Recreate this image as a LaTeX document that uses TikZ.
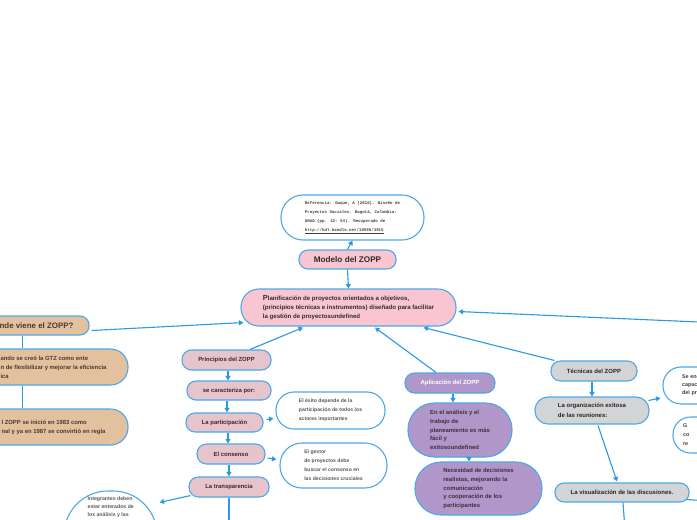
\documentclass[tikz,border=0pt]{standalone}
\usepackage{fontspec}
\setmainfont{Liberation Sans}
\newfontfamily\monof{Liberation Mono}
\usetikzlibrary{arrows.meta,calc}
\definecolor{bord}{HTML}{4DA8E8}
\definecolor{connc}{HTML}{2B9AE0}
\definecolor{pinkc}{HTML}{F9C5D1}
\definecolor{mauvec}{HTML}{E5C4CB}
\definecolor{tanc}{HTML}{E3C19F}
\definecolor{purpc}{HTML}{B197C9}
\definecolor{grayc}{HTML}{D3D4D6}
\definecolor{maroontx}{HTML}{4A1F2E}
\definecolor{tantx}{HTML}{4A3A30}
\definecolor{purptx}{HTML}{3A2F40}
\definecolor{darktx}{HTML}{2D2D2D}
\newcommand\bx[7]{%
  \node[#2, minimum width={(#5)-(#3)}, minimum height={(#6)-(#4)},
        rounded corners={((#6)-(#4))/2-0.5}]
        (#1) at ({((#3)+(#5))/2},{((#4)+(#6))/2}) {#7};}
\tikzset{
  basebox/.style={draw=bord, line width=1.1pt, inner sep=0pt, align=left,
                  font=\bfseries\fontsize{5.9}{9}\selectfont},
  pinkb/.style={basebox, fill=pinkc, text=darktx},
  mauveb/.style={basebox, fill=mauvec, text=maroontx},
  tanb/.style={basebox, fill=tanc, text=tantx},
  purpb/.style={basebox, fill=purpc, text=purptx, font=\bfseries\fontsize{5.9}{8.7}\selectfont},
  grayb/.style={basebox, fill=grayc, text=black!85, font=\bfseries\fontsize{6}{9.5}\selectfont},
  whiteb/.style={basebox, fill=white, text=black!65, font=\bfseries\fontsize{5.1}{9}\selectfont},
  plaintext/.style={inner sep=0pt, align=left, text=black!65, font=\bfseries\fontsize{5.2}{8}\selectfont},
  arr/.style={draw=connc, line width=1.1pt, -{Triangle[length=4.5pt,width=5pt]}},
  ln/.style={draw=connc, line width=1.1pt},
}
\begin{document}
\begin{tikzpicture}[x=1pt,y=-1pt]
\useasboundingbox (0,0) rectangle (697,520);
\fill[white] (0,0) rectangle (697,520);
\clip (0,0) rectangle (697,520);

% top
\bx{ref}{whiteb, font=\monof\bfseries\fontsize{4.1}{9}\selectfont, text=black!75}{281}{195}{424}{240}%
  {Referencia: Duque, A (2016). Diseño de\\Proyectos Sociales. Bogotá, Colombia:\\UNAD.(pp. 42- 54). Recuperado de\\\underline{http://hdl.handle.net/10596/3915}}
\bx{modelo}{pinkb, font=\bfseries\fontsize{8.2}{9}\selectfont}{299}{250}{396}{269}{Modelo del ZOPP}
\bx{central}{pinkb, font=\bfseries\fontsize{6.1}{9}\selectfont}{241}{289}{456}{326}%
  {{\fontsize{7.4}{9}\selectfont P}lanificación de proyectos orientados a objetivos,\\(principios técnicas e instrumentos) diseñado para facilitar\\la gestión de proyectosundefined}

% left (origin)
\bx{dedonde}{tanb, font=\bfseries\fontsize{7.9}{9}\selectfont}{-16}{316}{89}{335}{nde viene el ZOPP?}
\bx{tan2}{tanb}{-21}{349}{128}{385}{ando se creó la GTZ como ente\\n de flexibilizar y mejorar la eficiencia\\ica}
\bx{tan3}{tanb}{-21}{409}{128}{445}{l ZOPP se inició en 1983 como\\nal y ya en 1987 se convirtió en regla}

% principles
\bx{principios}{mauveb}{182}{350}{271}{370}{Principios del ZOPP}
\bx{caract}{mauveb}{187}{381}{271}{400}{se caracteriza por:}
\bx{partic}{mauveb}{186}{413}{263}{432}{La participación}
\bx{consenso}{mauveb}{197}{444}{265}{464}{El consenso}
\bx{transp}{mauveb}{189}{477}{269}{497}{La transparencia}
\bx{exito}{whiteb}{276}{392}{385}{429}{El éxito depende de la\\participación de todos los\\actores importantes}
\bx{gestor}{whiteb}{280}{443}{387}{488}{El gestor\\de proyectos debe\\buscar el consenso en\\las decisiones cruciales}
\bx{integr}{whiteb}{64}{491}{157}{580}{}
\node[plaintext, anchor=north west] (integrT) at ($(integr.north west)+(24,6)$)
  {Integrantes deben\\estar enterados de\\los análisis y las};

% application
\bx{aplic}{purpb, text=white, font=\bfseries\fontsize{6}{9}\selectfont}{405}{373}{495}{393}{Aplicación del ZOPP}
\bx{analisis}{purpb}{408}{403}{512}{457}{En el análisis y el\\trabajo de\\planeamiento es más\\fácil y\\exitosoundefined}
\bx{necesidad}{purpb}{415}{462}{542}{515}{Necesidad de decisiones\\realistas, mejorando la\\comunicación\\y cooperación de los\\participantes}

% techniques
\bx{tecnicas}{grayb}{551}{361}{637}{381}{Técnicas del ZOPP}
\bx{organiz}{grayb}{535}{397}{649}{424}{La organización exitosa\\de las reuniones:}
\bx{seenc}{whiteb, text width=40pt, text=black!75, font=\bfseries\fontsize{5.4}{8}\selectfont}{663}{367}{741}{404}{Se enc\\capac\\del pr}
\bx{gbox}{whiteb, text width=40pt, text=black!75, font=\bfseries\fontsize{5.4}{9}\selectfont}{673}{417}{733}{453}{G\\co\\re}
\bx{visual}{grayb}{555}{483}{689}{502}{La visualización de las discusiones.}

% free ends
\coordinate (offT) at (229,530);
\coordinate (offV) at (625,530);
\coordinate (offVR) at (710,501);
\coordinate (offR) at (710,322.5);

% connectors
\draw[arr] (modelo.north) -- (ref.south);
\draw[arr] (modelo.south) -- (central.north);
\draw[arr] ($(dedonde.east)+(2,5)$) -- ($(central.south west)+(3,-4)$);
\draw[ln] ($(dedonde.south)+(-14,0)$) -- ($(tan2.north)+(-31,0)$);
\draw[ln] ($(tan2.south)+(-31,0)$) -- ($(tan3.north)+(-31,0)$);
\draw[arr] (offR) -- ($(central.east)+(2,4)$);

\draw[arr] ($(principios.north)+(23.5,0)$) -- ($(central.south)+(-45.5,1)$);
\draw[arr] ($(principios.south)+(1.5,0)$) -- ($(caract.north)+(-1,0)$);
\draw[arr] ($(caract.south)+(-2,0)$) -- ($(partic.north)+(2.5,0)$);
\draw[arr] ($(partic.south)+(3.5,0)$) -- ($(consenso.north)+(-3,0)$);
\draw[arr] ($(consenso.south)+(-2,0)$) -- (transp.north);
\draw[arr] ($(partic.east)+(3,-3)$) -- ($(exito.west)+(-2,8)$);
\draw[arr] ($(consenso.east)+(2,4)$) -- ($(gestor.west)+(-3,-6)$);
\draw[arr] ($(transp.south west)+(2,-2)$) -- ($(integr.north east)+(2,12)$);
\draw[ln] (transp.south) -- (offT);

\draw[arr] ($(aplic.north)+(-14,0)$) -- ($(central.south)+(26.5,1)$);
\draw[arr] ($(aplic.south)+(3,0)$) -- ($(analisis.north)+(-7,0)$);
\draw[arr] ($(analisis.south)+(9,0)$) -- ($(necesidad.north)+(-9.5,0)$);

\draw[arr] ($(tecnicas.north west)+(4,0)$) -- ($(central.south east)+(-33,1)$);
\draw[arr] ($(tecnicas.south)+(-2,0)$) -- (organiz.north);
\draw[arr] ($(organiz.east)+(-1,-10)$) -- ($(seenc.west)+(-2,12.5)$);
\draw[arr] ($(organiz.south)+(6,1)$) -- ($(visual.north)+(-5,-1)$);
\draw[ln] ($(visual.south)+(1,0)$) -- (offV);
\draw[ln] ($(visual.south east)+(-3,-3)$) -- (offVR);
\end{tikzpicture}
\end{document}
